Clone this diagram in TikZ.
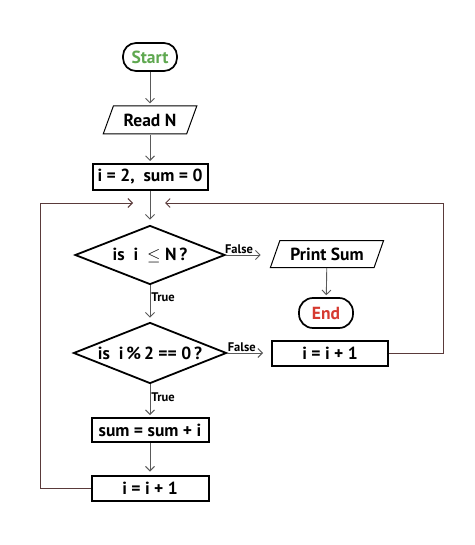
\documentclass[tikz,border=0pt]{standalone}
\usepackage{fontspec}
\setmainfont{PT Sans}
\usetikzlibrary{shapes.geometric,arrows.meta}
\definecolor{connc}{RGB}{90,90,90}
\definecolor{loopc}{RGB}{90,58,58}
\definecolor{startg}{RGB}{95,168,80}
\definecolor{endr}{RGB}{214,58,48}
\begin{document}
\begin{tikzpicture}[x=1pt,y=-1pt,
 every node/.style={font=\fontsize{17.5}{19}\selectfont\bfseries},
 term/.style={draw, line width=1.7pt, rounded corners=13pt, minimum width=54pt, minimum height=28pt, inner sep=0pt},
 io/.style={draw, line width=1pt, trapezium, trapezium left angle=60, trapezium right angle=120, trapezium stretches=true, inner sep=0pt},
 proc/.style={draw, line width=2pt, minimum width=116pt, minimum height=25pt, inner sep=0pt},
 dec/.style={draw, line width=1.8pt, diamond, inner sep=0pt, aspect=2.5},
 conn/.style={draw=connc, line width=0.9pt, -{Straight Barb[length=4.5pt,width=9pt]}},
 loopl/.style={draw=loopc, line width=0.9pt, -{Straight Barb[length=4.5pt,width=9pt]}},
 lbl/.style={font=\fontsize{12.5}{13}\selectfont\bfseries, inner sep=1pt}
]
\fill[white] (0,0) rectangle (474,545);
\useasboundingbox (0,0) rectangle (474,545);

\node[term, text=startg] (start) at (150,57) {Start};
\node[io, minimum width=94pt, minimum height=28pt] (readn) at (150,120) {Read N};
\node[proc, minimum width=115pt, minimum height=26pt] (init) at (150,177) {i = 2,\ \ sum = 0};
\node[dec, minimum width=150pt, minimum height=59pt] (d1) at (150,255) {is\ \ i\ \ $\leq$\ N\,?};
\node[dec, minimum width=153pt, minimum height=61pt] (d2) at (150,353) {is\ \ i\,\%\,2 == 0\,?};
\node[proc, minimum width=117pt, minimum height=24pt] (sumb) at (150,430) {sum = sum + i};
\node[proc, minimum width=117pt, minimum height=25pt] (inc1) at (150,488) {i = i + 1};
\node[io, minimum width=114pt, minimum height=27pt] (ps) at (327,254) {Print Sum};
\node[term, text=endr, minimum height=30pt, rounded corners=14pt] (endn) at (326,313) {End};
\node[proc, minimum width=116pt, minimum height=25pt] (inc2) at (330,353) {i = i + 1};

\coordinate (jl) at (133,203);
\coordinate (jr) at (165,203);
\coordinate (lx) at (40,203);
\coordinate (rx) at (443,203);

\draw[conn, shorten >=2pt] (start) -- (readn);
\draw[conn, shorten >=2pt] (readn) -- (init);
\draw[conn, shorten >=5pt] (init.south) -- (d1.north);
\draw[conn, shorten >=4pt] (d1.south) -- (d2.north) node[lbl, right, pos=0.34] {True};
\draw[conn, shorten >=2pt] (d2.south) -- (sumb.north) node[lbl, right, pos=0.4] {True};
\draw[conn, shorten >=3pt] (sumb.south) -- (inc1.north);
\draw[conn, shorten >=14pt] (d1.east) -- (d1.east -| ps.west) node[lbl, above, pos=0.27] {False};
\draw[conn, shorten >=2pt] (ps) -- (endn);
\draw[conn, shorten >=8pt] (d2.east) -- (inc2.west) node[lbl, above, pos=0.33] {False};

\draw[loopl] (inc1.west) -| (lx) -- (jl);
\draw[loopl] (inc2.east) -| (rx) -- (jr);
\end{tikzpicture}
\end{document}
